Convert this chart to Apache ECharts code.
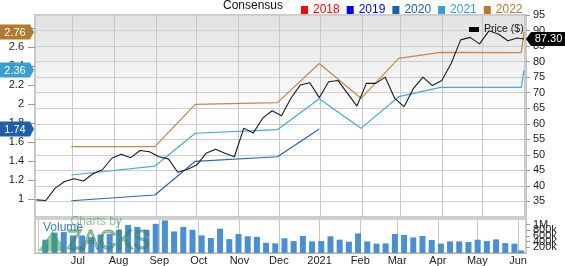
<!DOCTYPE html>
<html><head><meta charset="utf-8">
<script src="https://cdn.jsdelivr.net/npm/echarts@6/dist/echarts.min.js"></script>
<style>html,body{margin:0;padding:0;background:#fff}#c{width:565px;height:266px}</style>
</head><body><div id="c"></div>
<script>
// ---- data ----
const weekDates = ['2020-06-04','2020-06-11','2020-06-18','2020-06-25',
  '2020-07-02','2020-07-09','2020-07-16','2020-07-23','2020-07-30',
  '2020-08-06','2020-08-13','2020-08-20','2020-08-27',
  '2020-09-03','2020-09-10','2020-09-17','2020-09-24',
  '2020-10-01','2020-10-08','2020-10-15','2020-10-22','2020-10-29',
  '2020-11-05','2020-11-12','2020-11-19','2020-11-26',
  '2020-12-03','2020-12-10','2020-12-17','2020-12-24','2020-12-31',
  '2021-01-07','2021-01-14','2021-01-21','2021-01-28',
  '2021-02-04','2021-02-11','2021-02-18','2021-02-25',
  '2021-03-04','2021-03-11','2021-03-18','2021-03-25',
  '2021-04-01','2021-04-08','2021-04-15','2021-04-22','2021-04-29',
  '2021-05-06','2021-05-13','2021-05-20','2021-05-27','2021-06-01'];
const price = [35.5,35.3,39.3,41.4,42.3,41.6,43.9,45.2,48.9,50.2,49.1,51.4,51.0,
  49.4,48.7,44.4,45.3,46.7,50.5,51.8,50.5,49.4,58.6,57.0,61.8,64.2,62.6,68.2,72.5,
  73.2,68.4,73.5,73.9,69.8,65.7,73.0,73.0,75.0,68.2,65.5,71.4,75.0,72.3,73.9,79.5,
  87.0,87.8,85.7,89.9,88.9,86.7,87.6,87.30];
const volume = [470000,720000,740000,620000,620000,560000,650000,680000,820000,990000,
  920000,820000,1030000,1150000,760000,920000,820000,620000,530000,860000,490000,670000,
  590000,570000,360000,340000,520000,420000,600000,410000,420000,590000,470000,400000,
  690000,410000,330000,340000,670000,640000,550000,600000,460000,330000,410000,410000,
  390000,470000,420000,480000,350000,330000,90000];
const epsDates = ['2020-06-30','2020-08-31','2020-09-30','2020-11-30','2020-12-31',
  '2021-01-31','2021-02-28','2021-03-31','2021-05-30','2021-06-01'];
const eps2020 = [0.985,1.045,1.40,1.448,1.74];
const eps2021 = [1.256,1.35,1.695,1.733,2.059,1.747,2.08,2.179,2.179,2.36];
const eps2022 = [1.554,1.554,2.0,2.017,2.43,2.063,2.484,2.547,2.543,2.76];
const epsTickMaxLabel = 2.6;
const legendYears = ['2018','2019','2020','2021','2022'];
const monthNames = ['Jan','Feb','Mar','Apr','May','Jun','Jul','Aug','Sep','Oct','Nov','Dec'];

// ---- styling ----
const FONT = '"Liberation Sans", Arial, sans-serif';
const yearColors = {'2018':'#ff0000','2019':'#0000ff','2020':'#1f5fa8','2021':'#3a9ed0','2022':'#b07a30'};
const lineColors = {'2020':'#2b64b4','2021':'#4aa8d8','2022':'#c08a48'};
const xMin = +new Date(2020,5,3);
const xMax = +new Date(2021,5,2,12);
const pair = (d, v) => d.map((t, i) => [t, v[i]]).slice(0, Math.min(d.length, v.length));

function epsSeries(year, vals) {
  const last = vals[vals.length - 1];
  return {
    name: year, type: 'line', xAxisIndex: 2, yAxisIndex: 2, clip: false,
    data: pair(epsDates, vals), symbol: 'none', color: lineColors[year],
    lineStyle: {width: 1.2, color: lineColors[year]}, silent: true, z: 5,
    markPoint: {
      symbol: 'path://M0,0L30,0L34,7.5L30,15L0,15Z', symbolSize: [34, 15],
      symbolOffset: [-18, 0], itemStyle: {color: yearColors[year]}, zlevel: 1, z: 20,
      label: {show: true, position: 'inside', color: '#fff', fontSize: 11, fontFamily: FONT,
        offset: [-2, 0.5], formatter: p => p.value.toFixed(2)},
      data: [{coord: [xMin, last], value: last}]
    }
  };
}

const monthLabel = v => {
  if (v < xMin || v > xMax) return '';
  const d = new Date(v);
  if (d.getDate() !== 1) return '';
  return d.getMonth() === 0 ? String(d.getFullYear()) : monthNames[d.getMonth()];
};

const chart = echarts.init(document.getElementById('c'), null, {renderer: 'canvas'});
chart.setOption({
  animation: false,
  textStyle: {fontFamily: FONT},
  grid: [
    {left: 35, right: 39, top: 15, height: 202, show: true, borderColor: '#cacaca', borderWidth: 2,
      backgroundColor: {type: 'linear', x: 0, y: 0, x2: 0, y2: 1,
        colorStops: [{offset: 0, color: '#e1e1e1'}, {offset: 0.5, color: '#ffffff'}, {offset: 1, color: '#ffffff'}]}},
    {left: 35, right: 39, top: 219, height: 34, show: true, borderColor: '#d0d0d0', borderWidth: 2, backgroundColor: '#fff'},
    {left: 35, right: 39, top: 15, height: 184.3, show: false}
  ],
  xAxis: [
    {type: 'time', gridIndex: 0, min: xMin, max: xMax, splitNumber: 12,
      axisLabel: {show: false}, axisTick: {show: false}, axisLine: {show: false},
      splitLine: {show: true, lineStyle: {color: '#c8c8c8', width: 1}}},
    {type: 'time', gridIndex: 1, min: xMin, max: xMax, splitNumber: 12,
      axisLabel: {show: true, formatter: monthLabel, color: '#222', fontSize: 11, margin: 2, fontFamily: FONT,
        align: 'center', alignMinLabel: 'center', alignMaxLabel: 'center', hideOverlap: false},
      axisTick: {show: false}, axisLine: {show: true, lineStyle: {color: '#b8b8b8', width: 1}},
      splitLine: {show: true, lineStyle: {color: '#c8c8c8', width: 1}}},
    {type: 'time', gridIndex: 2, min: xMin, max: xMax, show: false}
  ],
  yAxis: [
    {type: 'value', gridIndex: 0, position: 'right', min: 30, max: 95, interval: 5,
      axisLabel: {color: '#222', fontSize: 11, margin: 7, showMinLabel: false, fontFamily: FONT},
      axisTick: {show: true, length: 4, lineStyle: {color: '#999'}}, axisLine: {show: false},
      splitLine: {show: true, lineStyle: {color: '#cfcfcf', width: 1}}},
    {type: 'value', gridIndex: 1, position: 'right', min: 0, max: 1200000, interval: 200000,
      axisLabel: {color: '#222', fontSize: 11, margin: 7, fontFamily: FONT,
        formatter: v => v === 0 ? '0' : (v >= 1e6 ? (v / 1e6) + 'M' : (v / 1e3) + 'k')},
      axisTick: {show: true, length: 4, lineStyle: {color: '#999'}}, axisLine: {show: false},
      splitLine: {show: false}},
    {type: 'value', gridIndex: 2, position: 'left', min: 1.0, max: 2.94, interval: 0.2,
      axisLabel: {color: '#222', fontSize: 11, margin: 11, showMaxLabel: false, fontFamily: FONT,
        formatter: v => v > epsTickMaxLabel + 1e-6 ? '' : String(+v.toFixed(2))},
      axisTick: {show: true, length: 7, lineStyle: {color: '#999'}}, axisLine: {show: false},
      splitLine: {show: false}}
  ],
  legend: [
    {left: 296, top: -1, icon: 'rect', itemWidth: 7, itemHeight: 8, itemGap: 7, selectedMode: false,
      textStyle: {fontSize: 12, fontFamily: FONT},
      data: legendYears.map(y => ({name: y, itemStyle: {color: yearColors[y]}, textStyle: {color: yearColors[y]}}))},
    {left: 464, top: 19, icon: 'rect', itemWidth: 10, itemHeight: 5, selectedMode: false,
      textStyle: {fontSize: 10.5, color: '#111', fontFamily: FONT},
      data: [{name: 'Price ($)', itemStyle: {color: '#000'}}]}
  ],
  graphic: [
    {type: 'text', left: 223, top: 0, style: {text: 'Consensus', fill: '#111', font: '12px ' + FONT}},
    {type: 'text', x: 43, y: 228, z: 100, style: {text: 'Volume', fill: 'rgba(35,110,200,0.9)', font: '12px ' + FONT, textVerticalAlign: 'middle'}},
    {type: 'text', x: 70.5, y: 221.5, z: 100, style: {text: 'Charts by', fill: 'rgba(70,150,80,0.6)', font: '12px ' + FONT, textVerticalAlign: 'middle'}},
    {type: 'polygon', z: 100, shape: {points: [[38, 251], [52.5, 231], [67, 251]]}, style: {fill: 'rgba(60,160,80,0.55)'}},
    {type: 'text', x: 67, y: 241.5, scaleX: 0.89, z: 100,
      style: {text: 'ZACKS', fill: 'rgba(70,150,80,0.5)', stroke: 'rgba(30,100,50,0.55)', lineWidth: 0.8,
        font: '28px ' + FONT, textVerticalAlign: 'middle'}}
  ],
  series: [
    {name: 'Price ($)', type: 'line', xAxisIndex: 0, yAxisIndex: 0, data: pair(weekDates, price),
      symbol: 'none', color: '#000', lineStyle: {width: 1.1, color: '#1a1a1a'}, silent: true, z: 6,
      markPoint: {
        symbol: 'path://M0,7L5,0L39,0L39,14L5,14Z', symbolSize: [39, 14], symbolOffset: [19.5, 0],
        itemStyle: {color: '#000'}, zlevel: 1, z: 20,
        label: {show: true, position: 'inside', color: '#fff', fontSize: 11, fontFamily: FONT,
          offset: [3, 0.5], formatter: p => p.value.toFixed(2)},
        data: [{coord: [xMax, price[price.length - 1]], value: price[price.length - 1]}]
      }},
    {name: '2018', type: 'line', xAxisIndex: 2, yAxisIndex: 2, data: [], color: yearColors['2018']},
    {name: '2019', type: 'line', xAxisIndex: 2, yAxisIndex: 2, data: [], color: yearColors['2019']},
    epsSeries('2020', eps2020),
    epsSeries('2021', eps2021),
    epsSeries('2022', eps2022),
    {name: 'pad', type: 'bar', xAxisIndex: 1, yAxisIndex: 1, data: [], barWidth: 6, barGap: '0%'},
    {name: 'Volume', type: 'bar', xAxisIndex: 1, yAxisIndex: 1, data: pair(weekDates, volume),
      barWidth: 6, barGap: '0%', itemStyle: {color: '#4a8fd0'}, silent: true}
  ]
});
</script></body></html>
